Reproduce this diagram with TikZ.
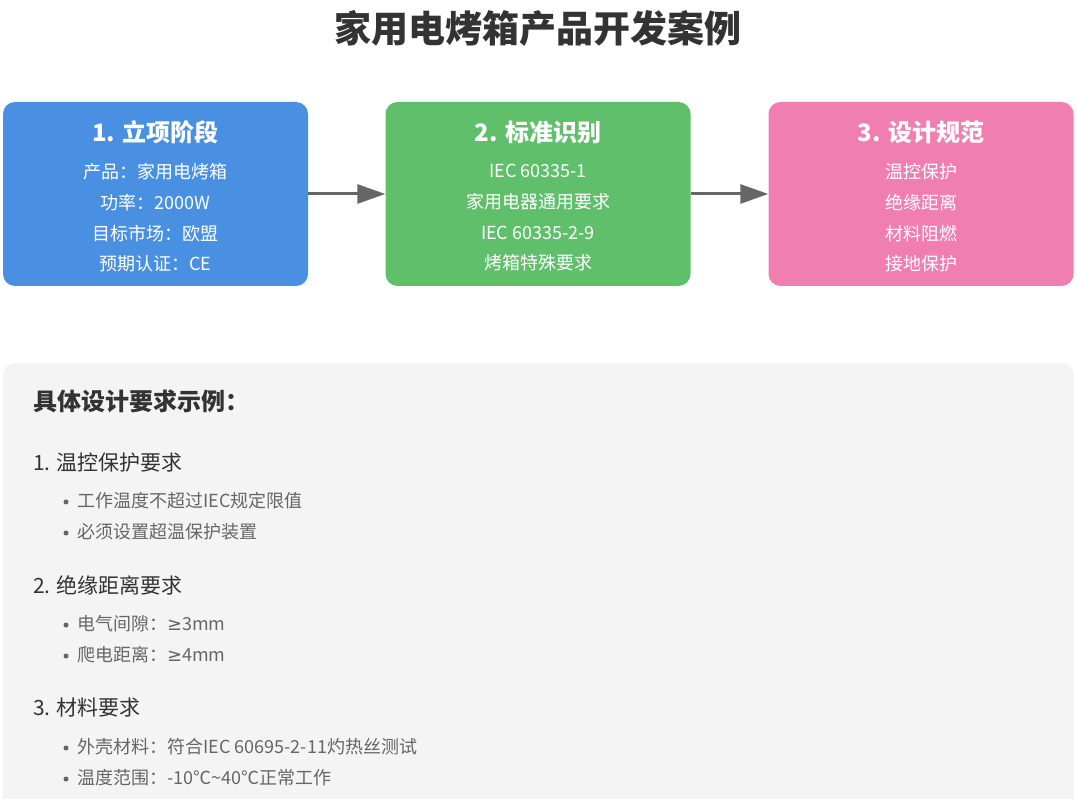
\documentclass[tikz,border=0pt]{standalone}
\usepackage{fontspec}
\setmainfont{Noto Sans CJK SC}
\newfontfamily\symfont{DejaVu Sans}
\usetikzlibrary{arrows.meta, positioning}
\definecolor{stageblue}{HTML}{4A90E2}
\definecolor{stagegreen}{HTML}{5FBF6A}
\definecolor{stagepink}{HTML}{F07EB0}
\definecolor{textdark}{HTML}{333333}
\definecolor{textgray}{HTML}{666666}
\definecolor{panelgray}{HTML}{F4F4F4}

\begin{document}
\begin{tikzpicture}[x=1pt, y=-1pt,
  stagebox/.style={rounded corners=12pt, minimum width=305pt, minimum height=184pt, inner sep=0pt},
  stagetitle/.style={text=white, font=\bfseries\fontsize{24}{28}\selectfont, inner sep=0pt},
  stagebody/.style={text=white, align=center, font=\fontsize{18}{30.7}\selectfont, inner sep=0pt},
  flow/.style={draw=textgray, line width=3pt, -{Triangle[length=28pt, width=19pt]}},
  reqhead/.style={anchor=west, text=textdark, font=\bfseries\fontsize{24}{28}\selectfont, inner sep=0pt},
  reqitem/.style={anchor=west, text=textdark, font=\fontsize{21}{25}\selectfont, inner sep=0pt},
  reqline/.style={anchor=west, text=textgray, font=\fontsize{18}{22}\selectfont, inner sep=0pt},
  reqdot/.style={circle, fill=textgray, minimum size=5pt, inner sep=0pt}
]
  \useasboundingbox (0,0) rectangle (1077,799);
  \node[text=textdark, font=\bfseries\fontsize{37}{42}\selectfont, inner sep=0pt] (title) at (538,28) {家用电烤箱产品开发案例};

  \node[stagebox, fill=stageblue] (lixiang) at (155.5,194) {};
  \node[stagetitle] (lixiang-t) at (155.5,132) {1. 立项阶段};
  \node[stagebody] (lixiang-b) at (155.5,218) {产品：家用电烤箱\\功率：2000W\\目标市场：欧盟\\预期认证：CE};

  \node[stagebox, fill=stagegreen] (biaozhun) at (538,194) {};
  \node[stagetitle] (biaozhun-t) at (538,132) {2. 标准识别};
  \node[stagebody] (biaozhun-b) at (538,218) {IEC 60335-1\\家用电器通用要求\\IEC 60335-2-9\\烤箱特殊要求};

  \node[stagebox, fill=stagepink] (guifan) at (921,194) {};
  \node[stagetitle] (guifan-t) at (921,132) {3. 设计规范};
  \node[stagebody] (guifan-b) at (921,218) {温控保护\\绝缘距离\\材料阻燃\\接地保护};

  \draw[flow] (lixiang) -- (biaozhun);
  \draw[flow] (biaozhun) -- (guifan);

  \begin{scope}
    \clip (0,0) rectangle (1077,799);
    \fill[panelgray, rounded corners=12pt] (3,363) rectangle (1074,840);
  \end{scope}

  \node[reqhead] (heading) at (33,401) {具体设计要求示例：};

  \node[reqitem] (req1) at (33,463) {1. 温控保护要求};
  \node[reqdot] (dot1a) at (66,502) {};
  \node[reqline] (req1a) at (77,501) {工作温度不超过IEC规定限值};
  \node[reqdot] (dot1b) at (66,533) {};
  \node[reqline] (req1b) at (77,532) {必须设置超温保护装置};

  \node[reqitem] (req2) at (33,585) {2. 绝缘距离要求};
  \node[reqdot] (dot2a) at (66,625) {};
  \node[reqline] (req2a) at (77,624) {电气间隙：{\symfont ≥}3mm};
  \node[reqdot] (dot2b) at (66,656) {};
  \node[reqline] (req2b) at (77,655) {爬电距离：{\symfont ≥}4mm};

  \node[reqitem] (req3) at (33,708) {3. 材料要求};
  \node[reqdot] (dot3a) at (66,748) {};
  \node[reqline] (req3a) at (77,747) {外壳材料：符合IEC 60695-2-11灼热丝测试};
  \node[reqdot] (dot3b) at (66,779) {};
  \node[reqline] (req3b) at (77,778) {温度范围：-10℃\textasciitilde 40℃正常工作};
\end{tikzpicture}
\end{document}
